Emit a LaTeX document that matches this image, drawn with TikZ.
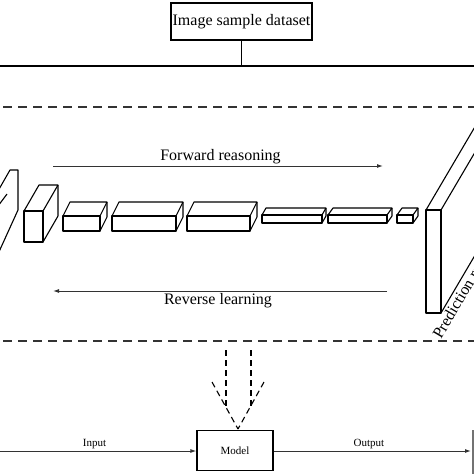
\documentclass[tikz,border=0pt]{standalone}
\usepackage{fontspec}
\setmainfont{Liberation Serif}
\usetikzlibrary{arrows.meta}
\newcommand{\mycuboid}[6]{%
  \draw[cub] (#1,#2) rectangle (#3,#4);
  \draw[cub] (#1,#2) -- ++(#5,#6) -- ({#3+#5},{#2+#6}) -- (#3,#2);
  \draw[cub] ({#3+#5},{#2+#6}) -- ({#3+#5},{#4+#6}) -- (#3,#4);
}
\begin{document}
\begin{tikzpicture}[x=1pt,y=-1pt,
  box/.style={draw,line width=1.2pt,rectangle,inner sep=0pt},
  cub/.style={line width=1.1pt,line join=round},
  lbl/.style={font=\fontsize{16}{18}\selectfont,inner sep=0pt},
  small/.style={font=\fontsize{11}{13}\selectfont,inner sep=0pt},
  dsh/.style={line width=1.2pt,dash pattern=on 9pt off 6pt,dash phase=-3pt,draw=black!80},
  sdsh/.style={line width=1.1pt,dash pattern=on 6pt off 4pt},
  arr/.style={line width=1pt,draw=black!80,-{Latex[length=6pt,width=4pt]}}]
\useasboundingbox (0,0) rectangle (474,474);
\clip (0,0) rectangle (474,474);
\fill[white] (0,0) rectangle (474,474);

% top dataset box
\node[box,minimum width=141pt,minimum height=37pt,lbl] (ds) at (241.5,21.5) {Image sample dataset};
\coordinate (j) at (241.5,66);
\coordinate (hl) at (0,66);
\coordinate (hr) at (474,66);
\draw[line width=1.5pt] (hl) -- (hr);
\draw[line width=1.1pt] (ds.south) -- (j);

% dashed frame lines
\coordinate (d1l) at (0,107);
\coordinate (d1r) at (474,107);
\coordinate (d2l) at (0,341);
\coordinate (d2r) at (474,341);
\draw[dsh] (d1l) -- (d1r);
\draw[dsh] (d2l) -- (d2r);

% forward / reverse arrows
\node[lbl,anchor=base] (fw) at (220.5,160) {Forward reasoning};
\coordinate (f1) at (53,166);
\coordinate (f2) at (383,166);
\draw[arr] (f1) -- (f2);
\node[lbl,anchor=base] (rv) at (218,304) {Reverse learning};
\coordinate (r1) at (387,291);
\coordinate (r2) at (53,291);
\draw[arr] (r1) -- (r2);

% layers
\draw[cub] (-2,191) -- (10,170) -- (18,170) -- (18,210) -- (-2,254);
\draw[cub] (-2,206) -- (7,194);
\mycuboid{24}{211}{43}{242}{15}{-26}
\mycuboid{63}{216}{100}{231}{7}{-14}
\mycuboid{112}{216}{176}{231}{7}{-14}
\mycuboid{187}{216}{250}{231}{7}{-14}
\mycuboid{262}{215}{322}{223}{4}{-7}
\mycuboid{328}{215}{387}{223}{5}{-7}
\mycuboid{397}{215}{413}{223}{5}{-7}

% prediction slab
\draw[cub] (426,210) rectangle (441,313);
\draw[cub] (426,210) -- ++(70,-119);
\draw[cub] (441,210) -- ++(70,-119);
\draw[cub] (441,313) -- ++(70,-119);
\node[lbl,rotate=59.5,anchor=base west] (pr) at (441,340) {Prediction result};

% model part
\node[box,small,minimum width=76pt,minimum height=40pt] (m) at (235,450.5) {Model};
\coordinate (tip) at (238,429);
\coordinate (v1a) at (226,350);
\coordinate (v1b) at (226,408);
\coordinate (v2a) at (251,350);
\coordinate (v2b) at (251,408);
\coordinate (g1) at (212,382);
\coordinate (g2) at (264,382);
\draw[sdsh] (v1a) -- (v1b);
\draw[sdsh] (v2a) -- (v2b);
\draw[sdsh] (g1) -- (tip);
\draw[sdsh] (g2) -- (tip);

\coordinate (in0) at (0,451);
\coordinate (out1) at (471,451);
\draw[arr] (in0) -- (m.west |- in0);
\draw[arr] (m.east |- out1) -- (out1);
\node[small,anchor=base] (inl) at (94.5,446) {Input};
\node[small,anchor=base] (outl) at (369,446) {Output};
\coordinate (gb1) at (473,430);
\coordinate (gb2) at (473,474);
\draw[line width=2pt,black!55] (gb1) -- (gb2);
\end{tikzpicture}
\end{document}
